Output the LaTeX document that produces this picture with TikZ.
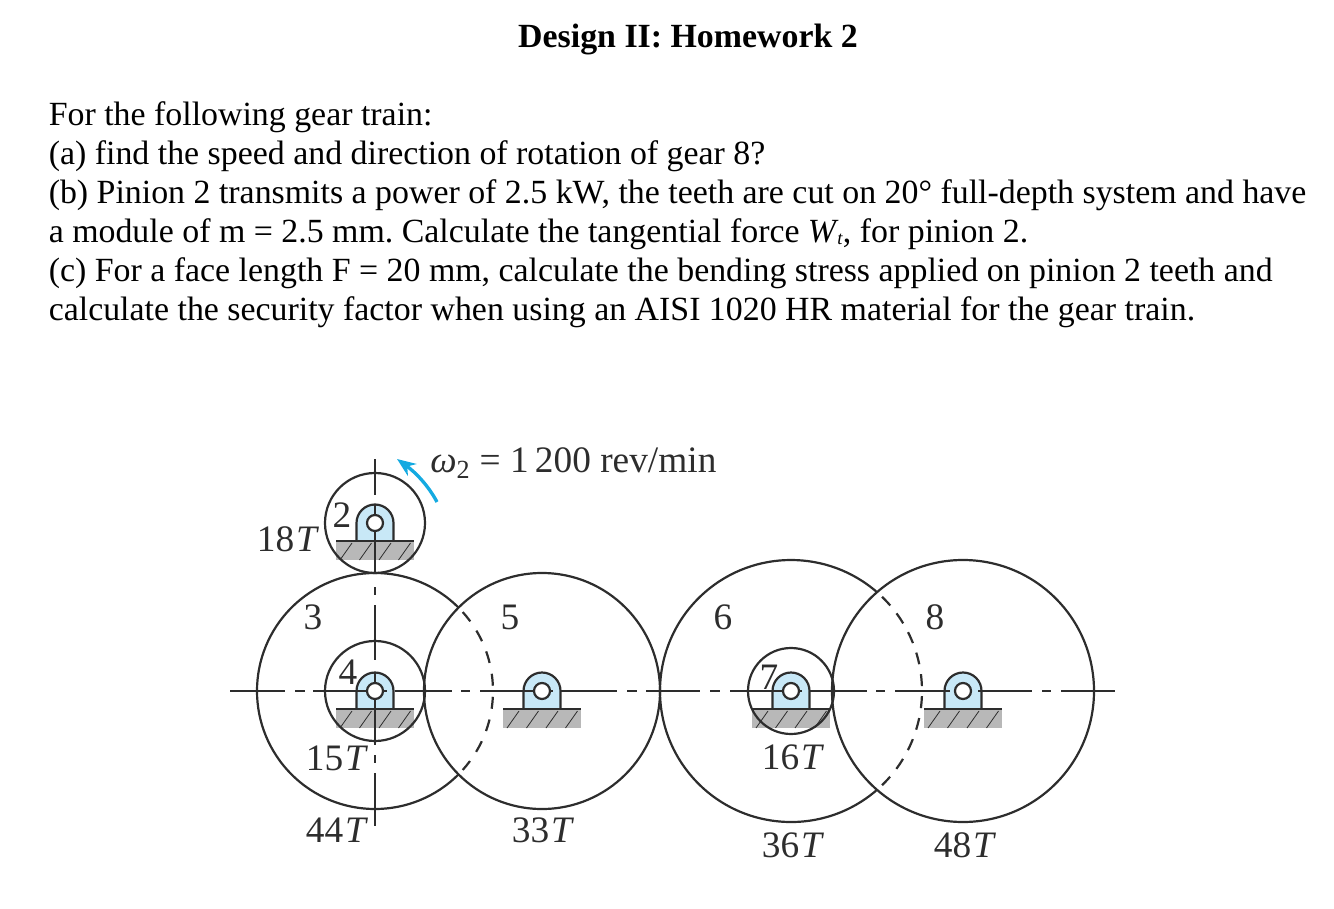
\documentclass[tikz,border=0pt]{standalone}
\usepackage{fontspec}
\setmainfont{Liberation Serif}
\usepackage{tikz}
\usetikzlibrary{calc, arrows.meta, positioning}
\definecolor{bracketblue}{RGB}{200,232,247}
\definecolor{omegablue}{RGB}{20,170,225}
\definecolor{groundgray}{RGB}{184,184,184}
\definecolor{inkgray}{RGB}{45,45,45}
\tikzset{
	gearline/.style={draw=inkgray, line width=1.65pt},
	hiddenline/.style={gearline, dash pattern=on 9pt off #1},
	axisline/.style={draw=inkgray, line width=.8pt},
	geartext/.style={text=inkgray, inner sep=0pt, font=\fontsize{28}{28}\selectfont},
}
\frenchspacing
\newcommand{\bearing}[1]{
	\begin{scope}[shift={(#1)}]
		\fill[groundgray] (-39,18) rectangle (39,37);
		\draw[inkgray, line width=.6pt] (-35,37) -- (-23,20) (-15.5,37) -- (-3.5,20) (4,37) -- (16,20) (23.5,37) -- (35.5,20);
		\draw[gearline, fill=bracketblue] (-18.5,18) -- (-18.5,0) arc[start angle=180, end angle=360, radius=18.5] -- (18.5,18);
		\draw[gearline, line width=1.8pt] (-39,18) -- (39,18);
	\end{scope}
}
\newcommand{\pinhole}[1]{
	\draw[gearline, fill=white] (#1) circle (8);
}

\begin{document}
\begin{tikzpicture}[x=.75pt, y=-.75pt]
	\useasboundingbox (0,0) rectangle (1334,909);

	\node[font=\bfseries\fontsize{25.4}{29}\selectfont] (title) at (688,39) {Design II: Homework 2};
	\node[anchor=north west, align=left, inner sep=0pt, font=\fontsize{25.4}{29.25}\selectfont] (question) at (48.5,101) {For the following gear train:\\
		(a) find the speed and direction of rotation of gear 8?\\
		(b) Pinion 2 transmits a power of 2.5 kW, the teeth are cut on 20° full-depth system and have\\
		a module of m = 2.5 mm. Calculate the tangential force \textit{W}\kern-1pt\raisebox{-2pt}{\fontsize{14}{14}\selectfont\textit{t}}, for pinion 2.\\
		(c) For a face length F = 20 mm, calculate the bending stress applied on pinion 2 teeth and\\
		calculate the security factor when using an AISI 1020 HR material for the gear train.};

	\coordinate (gear2) at (375,523);
	\coordinate (gear3) at (375,691);
	\coordinate (gear5) at (542,691);
	\coordinate (gear6) at (791,691);
	\coordinate (gear8) at (963,691);

	\bearing{gear2}
	\bearing{gear3}
	\bearing{gear5}
	\bearing{gear6}
	\bearing{gear8}

	\draw[axisline] (230,691) -- (285,691) (295,691) -- (305,691) (313,691) -- (387,691) (395,691) -- (452,691) (461,691) -- (470,691) (480,691) -- (553,691) (561,691) -- (617,691) (627,691) -- (637,691) (646,691) -- (700,691) (710,691) -- (720,691) (730,691) -- (802,691) (810,691) -- (867,691) (876,691) -- (885,691) (895,691) -- (950,691) (978,691) -- (1032,691) (1042,691) -- (1051,691) (1061,691) -- (1115,691);
	\draw[axisline] (375,459) -- (375,495) (375,505) -- (375,574) (375,587) -- (375,595) (375,605) -- (375,660) (375,672) -- (375,745) (375,755) -- (375,763) (375,773) -- (375,826);

	\pinhole{gear2}
	\pinhole{gear3}
	\pinhole{gear5}
	\pinhole{gear6}
	\pinhole{gear8}

	\draw[gearline] (gear2) circle (50);
	\draw[gearline] (gear3) circle (50);
	\draw[gearline] (gear6) circle (43);
	\draw[gearline] (gear5) circle (118);
	\draw[gearline] (gear8) circle (131);
	\draw[gearline] ($(gear3)+(45:118)$) arc[start angle=45, end angle=315, radius=118];
	\draw[hiddenline=8.3pt] ($(gear3)+(-42:118)$) arc[start angle=-42, end angle=42, radius=118];
	\draw[gearline] ($(gear6)+(49:131)$) arc[start angle=49, end angle=311, radius=131];
	\draw[hiddenline=7.55pt] ($(gear6)+(-46:131)$) arc[start angle=-46, end angle=46, radius=131];

	\coordinate (omegastart) at (437,502);
	\coordinate (omegaend) at (397,459);
	\draw[-{Stealth[length=14pt, width=11pt]}, omegablue, line width=2.5pt] (omegastart) .. controls (428,485) and (415,472) .. (omegaend);

	\node[geartext, anchor=west] (speed) at (430,463) {\textit{ω}\textsubscript{2} = 1\,200 rev/min};
	\node[geartext] (teeth18) at (288,539) {18\kern1.5pt\textit{T}};
	\node[geartext] (teeth15) at (337,758) {15\kern1.5pt\textit{T}};
	\node[geartext] (teeth44) at (337,830) {44\kern1.5pt\textit{T}};
	\node[geartext] (teeth33) at (543,830) {33\kern1.5pt\textit{T}};
	\node[geartext] (teeth16) at (793,757) {16\kern1.5pt\textit{T}};
	\node[geartext] (teeth36) at (793,845) {36\kern1.5pt\textit{T}};
	\node[geartext] (teeth48) at (965,845) {48\kern1.5pt\textit{T}};
	\node[geartext] (label2) at (342,515) {2};
	\node[geartext] (label3) at (313,617) {3};
	\node[geartext] (label4) at (348,672) {4};
	\node[geartext] (label5) at (510,617) {5};
	\node[geartext] (label6) at (723,617) {6};
	\node[geartext] (label7) at (769,677) {7};
	\node[geartext] (label8) at (935,617) {8};
\end{tikzpicture}
\end{document}
